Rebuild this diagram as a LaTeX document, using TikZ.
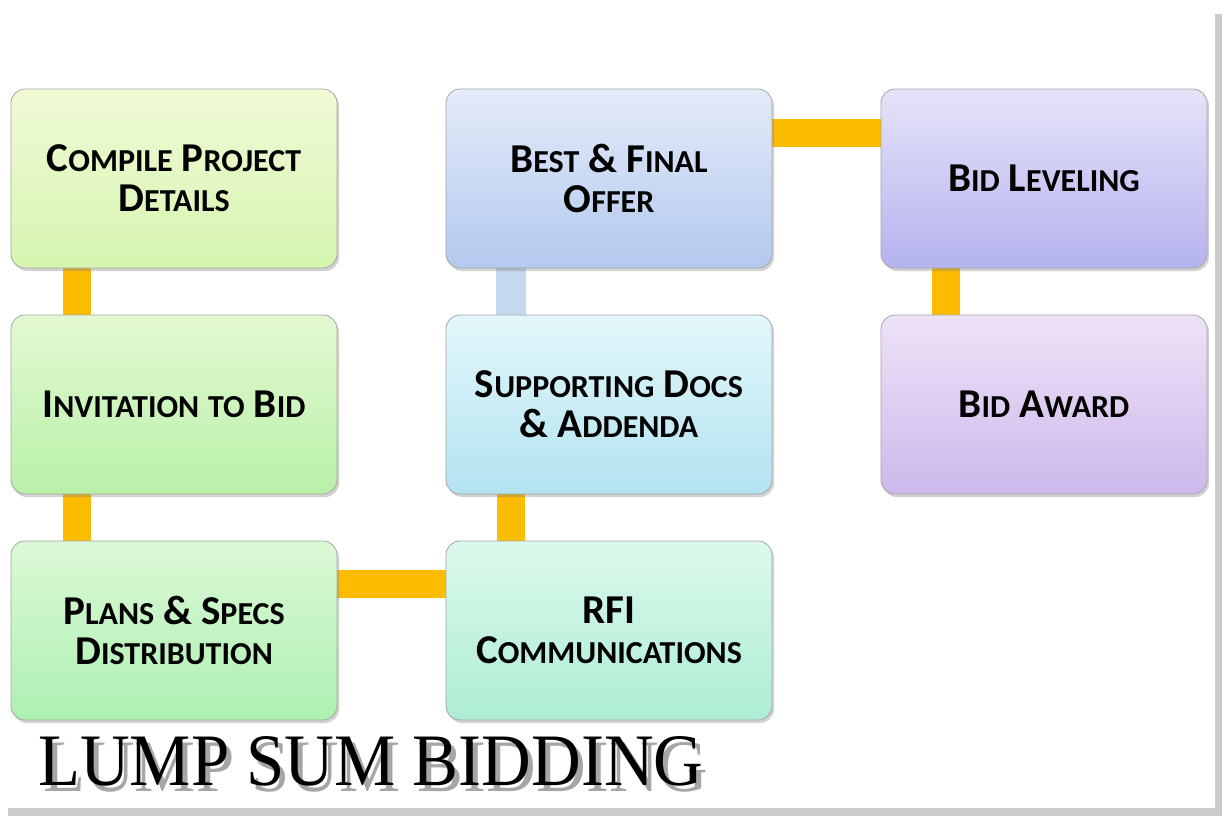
\documentclass[tikz,border=0pt]{standalone}
\usepackage{fontspec}
\setmainfont{Carlito}
\newfontfamily\titlefont{Liberation Serif}
\usetikzlibrary{shadows,calc}
\newcommand{\Sc}[2]{{\fontsize{41}{40}\selectfont #1}{\fontsize{32}{40}\selectfont #2}}
\newcommand{\Sp}{\hspace{9pt}}
\tikzset{
  box/.style={draw=gray!70, line width=0.8pt, rounded corners=14pt, minimum width=326pt, minimum height=179pt,
    align=center, font=\bfseries\fontsize{32}{40}\selectfont, drop shadow={shadow xshift=2pt,shadow yshift=-3pt,opacity=0.35}},
}
\definecolor{conncol}{HTML}{FCBD00}
\begin{document}
\begin{tikzpicture}[x=1pt,y=-1pt]
\useasboundingbox (0,0) rectangle (1224,825);
\fill[gray!40] (8,14) rectangle (1222,816);
\fill[white] (3,3) rectangle (1215,808);
% connectors
\coordinate (a1) at (77,268); \coordinate (a2) at (77,315);
\coordinate (b1) at (77,494); \coordinate (b2) at (77,541);
\coordinate (c1) at (337,584); \coordinate (c2) at (446,584);
\coordinate (d1) at (511,494); \coordinate (d2) at (511,541);
\coordinate (e1) at (511,268); \coordinate (e2) at (511,315);
\coordinate (f1) at (772,133); \coordinate (f2) at (881,133);
\coordinate (g1) at (946,268); \coordinate (g2) at (946,315);
\foreach \p/\q in {a1/a2,b1/b2,c1/c2,d1/d2,f1/f2,g1/g2}
  \draw[line width=28pt, conncol] (\p) -- (\q);
\draw[line width=30pt, color={rgb,255:red,196;green,218;blue,240}] (e1) -- (e2);
% boxes
\node[box, top color={rgb,255:red,240;green,250;blue,214}, bottom color={rgb,255:red,214;green,245;blue,176}] (n1) at (174,178.5) {\Sc{C}{OMPILE}\Sp\Sc{P}{ROJECT}\\\Sc{D}{ETAILS}};
\node[box, top color={rgb,255:red,228;green,249;blue,210}, bottom color={rgb,255:red,184;green,240;blue,168}] (n2) at (174,404.5) {\Sc{I}{NVITATION}\Sp\Sc{}{TO}\Sp\Sc{B}{ID}};
\node[box, top color={rgb,255:red,220;green,248;blue,214}, bottom color={rgb,255:red,173;green,240;blue,178}] (n3) at (174,630.5) {\Sc{P}{LANS}\Sp\Sc{\&}{}\Sp\Sc{S}{PECS}\\\Sc{D}{ISTRIBUTION}};
\node[box, top color={rgb,255:red,220;green,249;blue,236}, bottom color={rgb,255:red,173;green,237;blue,212}] (n4) at (609,630.5) {\Sc{RFI}{}\\\Sc{C}{OMMUNICATIONS}};
\node[box, top color={rgb,255:red,226;green,247;blue,251}, bottom color={rgb,255:red,179;green,227;blue,240}] (n5) at (609,404.5) {\Sc{S}{UPPORTING}\Sp\Sc{D}{OCS}\\\Sc{\&}{}\Sp\Sc{A}{DDENDA}};
\node[box, top color={rgb,255:red,228;green,235;blue,249}, bottom color={rgb,255:red,179;green,201;blue,238}] (n6) at (609,178.5) {\Sc{B}{EST}\Sp\Sc{\&}{}\Sp\Sc{F}{INAL}\\\Sc{O}{FFER}};
\node[box, top color={rgb,255:red,229;green,227;blue,249}, bottom color={rgb,255:red,181;green,179;blue,238}] (n7) at (1044,178.5) {\Sc{B}{ID}\Sp\Sc{L}{EVELING}};
\node[box, top color={rgb,255:red,237;green,227;blue,247}, bottom color={rgb,255:red,205;green,184;blue,236}] (n8) at (1044,404.5) {\Sc{B}{ID}\Sp\Sc{A}{WARD}};
% title
\node[anchor=base west, inner sep=0pt, text=black!35, xscale=0.93] at (43,791) {\titlefont\fontsize{74}{76}\selectfont LUMP SUM BIDDING};
\node[anchor=base west, inner sep=0pt, xscale=0.93] (title) at (38,785) {\titlefont\fontsize{74}{76}\selectfont LUMP SUM BIDDING};
\end{tikzpicture}
\end{document}
